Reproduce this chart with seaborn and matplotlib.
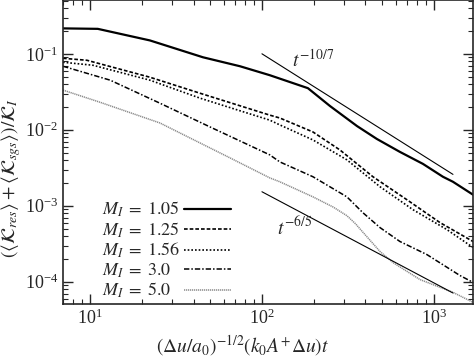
import numpy as np
import pandas as pd
import matplotlib
matplotlib.use("Agg")
import matplotlib.pyplot as plt
import seaborn as sns

# ---- data ----
x_105 = [6.97, 11.1, 22.3, 45.4, 74.5, 111, 185, 249, 357, 466, 634, 863, 1128, 1290, 1687]
y_105 = [0.216, 0.213, 0.150, 0.090, 0.0686, 0.0523, 0.0353, 0.0205, 0.0112, 0.00757, 0.00512, 0.00356, 0.00241, 0.00207, 0.00140]

x_125 = [6.97, 9.6, 22.3, 43.6, 111, 127, 198, 284, 442, 697, 1084, 1687]
y_125 = [0.0873, 0.0822, 0.0492, 0.0303, 0.0156, 0.0143, 0.00936, 0.00543, 0.00241, 0.00120, 6.01e-4, 3.39e-4]

x_156 = [6.97, 10.4, 22.3, 43.6, 111, 127, 198, 312, 486, 755, 1190, 1687]
y_156 = [0.0774, 0.0707, 0.0450, 0.0261, 0.0134, 0.0116, 0.00735, 0.00402, 0.00178, 8.89e-4, 4.86e-4, 2.83e-4]

x_30 = [6.97, 13.1, 25.5, 49.9, 111, 127, 198, 312, 386, 486, 634, 910, 1416, 1687]
y_30 = [0.0686, 0.0450, 0.0224, 0.0109, 0.00468, 0.00378, 0.00241, 0.00131, 8.12e-4, 5.16e-4, 3.39e-4, 2.28e-4, 1.21e-4, 9.82e-5]

x_50 = [6.97, 11.4, 25.5, 65.2, 111, 127, 198, 260, 312, 350, 386, 486, 578, 829, 1290, 1687]
y_50 = [0.0333, 0.0231, 0.0123, 0.00427, 0.00233, 0.00207, 0.00131, 9.6e-4, 7.4e-4, 5.8e-4, 4.5e-4, 2.5e-4, 1.79e-4, 1.07e-4, 7.26e-5, 5.37e-5]

# reference power-law lines (end points)
ref1_x = [100, 1290]
ref1_y = [0.100, 0.00259]
ref2_x = [100, 1290]
ref2_y = [0.00153, 7.12e-5]

labels = ["$M_I\\;=\\;1.05$", "$M_I\\;=\\;1.25$", "$M_I\\;=\\;1.56$",
          "$M_I\\;=\\;3.0$", "$M_I\\;=\\;5.0$"]

sns.set_style("ticks")
plt.rcParams["font.family"] = ["Liberation Serif", "DejaVu Serif"]
plt.rcParams["mathtext.fontset"] = "stix"

fig = plt.figure(figsize=(4.74, 3.58), dpi=100)
ax = fig.add_axes([63 / 474, 1 - 304 / 358, 410 / 474, 304 / 358 - 0.001])

series = [
    (x_105, y_105, dict(color="black", lw=1.6, linestyle="-")),
    (x_125, y_125, dict(color="black", lw=1.2, dashes=(2.2, 1.2))),
    (x_156, y_156, dict(color="black", lw=1.2, dashes=(1.0, 1.2))),
    (x_30, y_30, dict(color="black", lw=1.1, dashes=(3.5, 1.3, 1.0, 1.3))),
    (x_50, y_50, dict(color="#8a8a8a", lw=1.1, dashes=(0.8, 0.5))),
]
for (xs, ys, kw), lab in zip(series, labels):
    df = pd.DataFrame({"x": xs, "y": ys})
    sns.lineplot(data=df, x="x", y="y", ax=ax, label=lab, **kw)

sns.lineplot(x=ref1_x, y=ref1_y, ax=ax, color="black", lw=0.8)
sns.lineplot(x=ref2_x, y=ref2_y, ax=ax, color="black", lw=0.8)

ax.set_xscale("log")
ax.set_yscale("log")
ax.set_xlim(6.97, 1687)
ax.set_ylim(5.1e-5, 0.505)

ax.text(150, 0.067, "$t^{-10/7}$", fontsize=14)
ax.text(122, 4.2e-4, "$t^{-6/5}$", fontsize=14)

ax.tick_params(which="both", direction="in", top=True, right=True, labelsize=13)
ax.tick_params(which="major", length=7, width=1)
ax.tick_params(which="minor", length=3.5, width=0.8)
for s in ax.spines.values():
    s.set_linewidth(1.2)

ax.set_xlabel("$(\\Delta u/a_0)^{-1/2}(k_0A^{+}\\Delta u)t$", fontsize=14)
ax.set_ylabel("$(\\langle\\mathcal{K}_{res}\\rangle+\\langle\\mathcal{K}_{sgs}\\rangle)/\\mathcal{K}_I$",
              fontsize=14)
ax.xaxis.set_label_coords(0.437, -0.095)
ax.yaxis.set_label_coords(-0.098, 0.414)

handletextpad = 0.2
fs = 13
leg = ax.legend(loc="lower left", bbox_to_anchor=(0.095, 0.012), frameon=False,
                markerfirst=False, fontsize=fs, handlelength=2.6, handletextpad=handletextpad,
                labelspacing=0.06, borderaxespad=0.0, borderpad=0.0)

# left-align legend texts while keeping handles aligned on the right
fig.canvas.draw()
renderer = fig.canvas.get_renderer()
column = leg._legend_handle_box.get_children()[0]
rows = column.get_children()
widths = [r.get_children()[0].get_bbox(renderer).width for r in rows]
wmax = max(widths)
for r, w in zip(rows, widths):
    r.sep = handletextpad * fs + (wmax - w) * 72.0 / fig.dpi

fig.savefig("out.png", dpi=100)
